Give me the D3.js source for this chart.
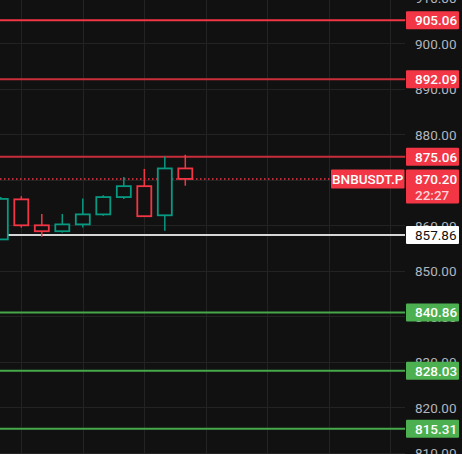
<!DOCTYPE html>
<html>
<head>
<meta charset="utf-8">
<script src="https://cdn.jsdelivr.net/npm/d3@7"></script>
<style>
  html, body { margin: 0; padding: 0; background: #111111; overflow: hidden; }
  svg { display: block; }
</style>
</head>
<body>
<svg id="chart" width="462" height="454"></svg>
<script>
// ---- data ----
const barIndex = [0, 1, 2, 3, 4, 5, 6, 7, 8, 9];
const opens  = [856.9, 865.7, 860.0, 858.7, 860.2, 862.4, 866.2, 868.6, 862.2, 872.5];
const highs  = [866.2, 866.4, 862.5, 862.5, 865.9, 866.6, 870.6, 872.4, 875.1, 875.5];
const lows   = [856.9, 859.5, 857.5, 858.4, 859.5, 862.1, 865.8, 862.0, 858.8, 868.7];
const closes = [865.8, 860.0, 858.7, 860.2, 862.4, 866.2, 868.6, 862.0, 872.5, 870.2];

const levelValues = [905.06, 892.09, 875.06, 857.86, 840.86, 828.03, 815.31];
const levelKinds  = ["redBright", "red", "red", "white", "green", "green", "green"];

const yTicks = [910, 900, 890, 880, 870, 860, 850, 840, 830, 820, 810];
const xGridBars = [1, 4, 7, 10, 13, 16, 19];

const symbolName = "BNBUSDT.P";
const lastPrice = 870.20;
const countdown = "22:27";

// ---- styles ----
const W = 462, H = 454, plotRight = 405;
const bg = "#111111";
const upColor = "#089981", downColor = "#F23645";
const kindStyle = {
  redBright: { line: "#F23645", box: "#F23645", text: "#FFFFFF" },
  red:       { line: "#C82E3A", box: "#F23645", text: "#FFFFFF" },
  white:     { line: "#D6D6D6", box: "#FFFFFF", text: "#111111" },
  green:     { line: "#46A84A", box: "#4CAF50", text: "#FFFFFF" }
};
const font = "Roboto, 'Liberation Sans', sans-serif";

const svg = d3.select("#chart");
svg.append("rect").attr("width", W).attr("height", H).attr("fill", bg);

const y = d3.scaleLinear().domain([810, 910]).range([452.8, -2.2]);
const x = d3.scaleLinear().domain([0, 19]).range([0.8, 0.8 + 19 * 20.5]);

// grid
const grid = svg.append("g");
grid.selectAll("line.h").data(yTicks).join("line")
  .attr("x1", 0).attr("x2", plotRight)
  .attr("y1", d => Math.round(y(d)) + 0.5).attr("y2", d => Math.round(y(d)) + 0.5)
  .attr("stroke", "#232323").attr("stroke-width", 1);
grid.selectAll("line.v").data(xGridBars).join("line")
  .attr("x1", d => Math.round(x(d)) + 0.5).attr("x2", d => Math.round(x(d)) + 0.5)
  .attr("y1", 0).attr("y2", H)
  .attr("stroke", "#232323").attr("stroke-width", 1);

// y axis labels (right side)
const yAxis = d3.axisRight(y).tickValues(yTicks).tickSize(0).tickFormat(d3.format(".2f"));
const gAxis = svg.append("g").attr("transform", `translate(${415},0)`).call(yAxis);
gAxis.select(".domain").remove();
gAxis.selectAll("text")
  .attr("x", 0).attr("dy", "0.35em")
  .attr("fill", "#B2B5BE").attr("font-family", font).attr("font-size", "13.5px")
  .attr("text-anchor", "start");

// price level lines
const levels = levelValues.map((v, i) => ({ v, s: kindStyle[levelKinds[i]] }));
svg.append("g").selectAll("line").data(levels).join("line")
  .attr("x1", 0).attr("x2", plotRight)
  .attr("y1", d => y(d.v)).attr("y2", d => y(d.v))
  .attr("stroke", d => d.s.line).attr("stroke-width", 2);

// current price dotted line
svg.append("line")
  .attr("x1", 0).attr("x2", 331)
  .attr("y1", y(lastPrice)).attr("y2", y(lastPrice))
  .attr("stroke", downColor).attr("stroke-width", 1.5)
  .attr("stroke-dasharray", "1.5,2.5");

// candles
const candles = barIndex.map((b, i) => ({ b, o: opens[i], h: highs[i], l: lows[i], c: closes[i] }));
const gC = svg.append("g");
const bodyW = 14;
gC.selectAll("line").data(candles).join("line")
  .attr("x1", d => x(d.b)).attr("x2", d => x(d.b))
  .attr("y1", d => y(d.h)).attr("y2", d => y(d.l))
  .attr("stroke", d => d.c >= d.o ? upColor : downColor).attr("stroke-width", 1.5);
gC.selectAll("rect").data(candles).join("rect")
  .attr("x", d => x(d.b) - bodyW / 2)
  .attr("width", bodyW)
  .attr("y", d => y(Math.max(d.o, d.c)))
  .attr("height", d => Math.max(1, Math.abs(y(d.o) - y(d.c))))
  .attr("fill", bg)
  .attr("stroke", d => d.c >= d.o ? upColor : downColor).attr("stroke-width", 1.8);

// level labels
const gL = svg.append("g");
const lbl = gL.selectAll("g").data(levels).join("g")
  .attr("transform", d => `translate(406,${y(d.v)})`);
lbl.append("rect").attr("x", 0).attr("y", -9).attr("width", 53).attr("height", 18)
  .attr("rx", 1).attr("fill", d => d.s.box);
lbl.append("text").attr("x", 9).attr("dy", "0.36em")
  .attr("fill", d => d.s.text).attr("font-family", font).attr("font-size", "13.5px")
  .attr("font-weight", d => d.s.box === "#FFFFFF" ? 400 : 500)
  .text(d => d3.format(".2f")(d.v));

// current price label
const yp = y(lastPrice);
svg.append("rect").attr("x", 406).attr("y", yp - 9.5).attr("width", 53).attr("height", 34)
  .attr("rx", 1).attr("fill", downColor);
svg.append("text").attr("x", 415).attr("y", yp).attr("dy", "0.36em")
  .attr("fill", "#FFFFFF").attr("font-family", font).attr("font-size", "13.5px").attr("font-weight", 500)
  .text(d3.format(".2f")(lastPrice));
svg.append("text").attr("x", 415).attr("y", yp + 16).attr("dy", "0.36em")
  .attr("fill", "#FFD3D7").attr("font-family", font).attr("font-size", "13.5px").attr("font-weight", 500)
  .text(countdown);

// symbol label
svg.append("rect").attr("x", 331).attr("y", yp - 9.5).attr("width", 73.5).attr("height", 19)
  .attr("rx", 1).attr("fill", downColor);
svg.append("text").attr("x", 367.7).attr("y", yp).attr("dy", "0.36em")
  .attr("text-anchor", "middle")
  .attr("fill", "#FFFFFF").attr("font-family", font).attr("font-size", "13.5px").attr("font-weight", 500)
  .text(symbolName);
</script>
</body>
</html>
